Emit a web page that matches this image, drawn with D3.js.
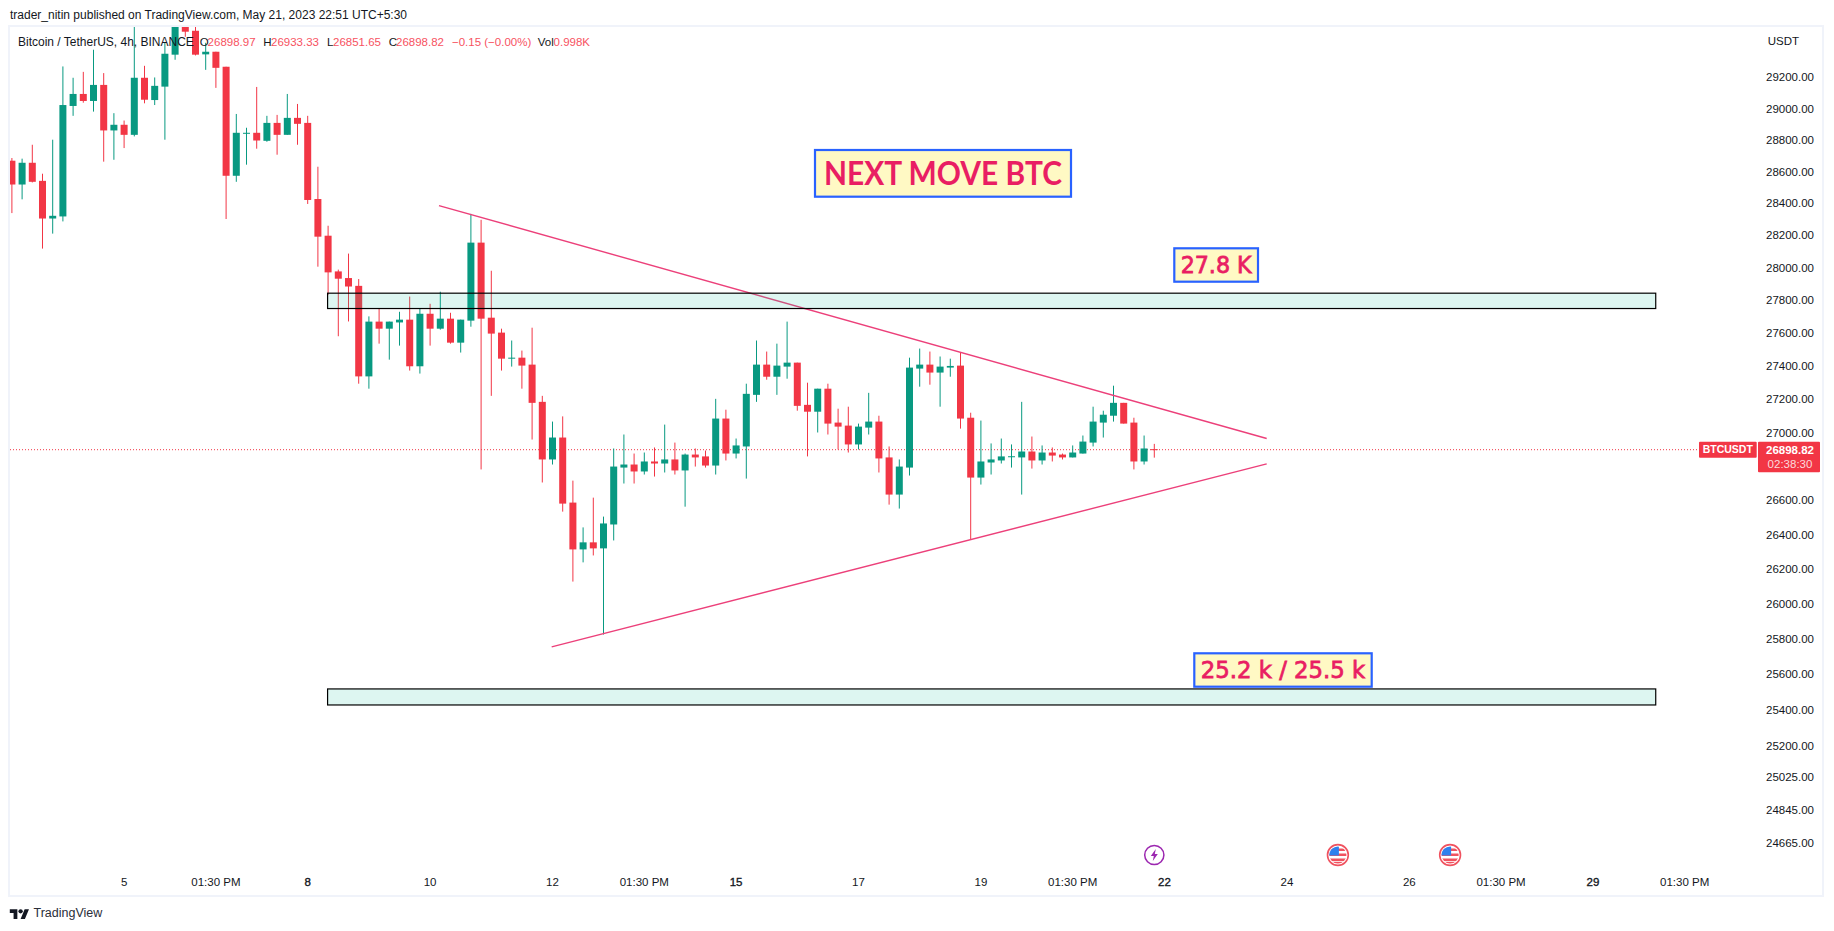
<!DOCTYPE html>
<html><head><meta charset="utf-8"><title>BTCUSDT</title>
<script src="https://cdn.jsdelivr.net/npm/d3@7"></script>
<style>html,body{margin:0;padding:0;background:#fff}svg{display:block}text{font-family:"Liberation Sans",Arial,sans-serif}</style>
</head><body><svg id="c" width="1834" height="931"></svg>
<script>
const opens=[28668,28518,28655,28541,28305,28318,29016,29093,29048,29151,28860,28896,28832,29197,29054,29140,29346,29572,29501,29348,29365,29268,28573,28841,28845,28794,28908,28832,28940,28908,28427,28198,27977,27936,27888,27337,27669,27626,27664,27681,27398,27717,27626,27687,27541,27675,28155,27693,27602,27444,27450,27408,27184,26841,26971,26587,26314,26355,26320,26459,26793,26811,26770,26829,26817,26841,26776,26870,26859,26805,27084,26876,26918,27226,27408,27335,27396,27420,27166,27125,27263,27060,27042,26930,27030,27066,26853,26634,26793,27384,27408,27360,27390,27402,27089,26734,26823,26835,26855,26853,26888,26835,26882,26870,26853,26876,26941,27060,27101,27178,27060,26829,26898.97];
const highs=[28685,28681,28769,28586,28801,29270,29197,29235,29378,29227,28970,28923,29527,29274,29199,29423,29637,29605,29540,29423,29365,29268,28965,28877,29138,28953,28959,29093,29029,28953,28630,28260,27988,28087,27930,27701,27752,27669,27729,27822,27752,27778,27852,27723,27681,28334,28297,27981,27626,27554,27493,27632,27220,27066,27097,26716,26442,26616,26505,26906,26989,26876,26882,26912,27048,26941,26876,26906,26894,27202,27137,26965,27293,27554,27487,27535,27669,27420,27299,27263,27293,27143,27155,27054,27238,27101,26918,26841,27450,27505,27487,27457,27444,27481,27119,27072,26936,26965,26930,27184,26977,26924,26912,26876,26924,26983,27155,27131,27281,27178,27089,26983,26933.33];
const lows=[28339,28425,28531,28118,28211,28287,28953,29037,28980,28662,28674,28748,28822,29033,29022,28801,29313,29462,29341,29248,29132,28302,28535,28643,28744,28788,28706,28832,28769,28396,28006,27833,27580,27670,27293,27263,27535,27438,27523,27372,27354,27523,27620,27535,27481,27638,26782,27220,27372,27396,27263,26959,26705,26811,26534,26128,26239,26279,25825,26366,26699,26699,26752,26740,26764,26752,26563,26799,26793,26752,26835,26847,26728,27184,27317,27226,27323,27131,26859,27001,26989,26900,26882,26900,26989,26764,26575,26552,26746,27275,27287,27155,27335,27024,26372,26693,26752,26817,26793,26634,26787,26811,26829,26841,26853,26876,26918,26971,27066,27054,26782,26811,26851.65];
const closes=[28518,28655,28535,28305,28322,29022,29093,29048,29151,28860,28896,28832,29197,29056,29145,29352,29572,29495,29346,29365,29261,28573,28845,28845,28796,28908,28832,28940,28902,28421,28192,27971,27932,27884,27337,27669,27626,27669,27681,27398,27717,27626,27687,27541,27681,28155,27687,27596,27444,27450,27402,27178,26841,26971,26581,26314,26355,26320,26465,26799,26811,26770,26829,26817,26841,26776,26870,26853,26805,27084,26876,26924,27232,27408,27335,27402,27420,27160,27125,27263,27054,27036,26930,27036,27066,26847,26634,26799,27390,27408,27360,27396,27400,27084,26734,26829,26841,26859,26860,26888,26835,26882,26864,26853,26882,26947,27066,27107,27178,27054,26829,26906,26898.82];

const priceTicks=[29200,29000,28800,28600,28400,28200,28000,27800,27600,27400,27200,27000,26600,26400,26200,26000,25800,25600,25400,25200,25025,24845,24665];
const timeIdx=[11,20,29,41,53,62,71,83,95,104,113,125,137,146,155,164];
const timeLabels=["5","01:30 PM","8","10","12","01:30 PM","15","17","19","01:30 PM","22","24","26","01:30 PM","29","01:30 PM"];
const timeBold=["8","15","22","29"];

const zoneTops=[27843,25517];
const zoneBots=[27749,25427];
const zoneFrom=30.95, zoneTo=161.16;

const trendFromIdx=[41.87,52.92];
const trendFromPrice=[28386,25755];
const trendToIdx=[123.02,123.02];
const trendToPrice=[26965,26815];

const lastPrice=26898.82;
const legendParts=[["Bitcoin / TetherUS, 4h, BINANCE",18,0],["O",199.7,0],["26898.97",207.6,1],["H",263.3,0],["26933.33",271,1],["L",327,0],["26851.65",333,1],["C",388.7,0],["26898.82",396,1],["\u22120.15 (\u22120.00%)",452,1],["Vol",537.8,0],["0.998K",553.6,1]];
const eventIdx=[112,130,141];
const eventKinds=["bolt","flag","flag"];

const W=1834,H=931,paneL=10,paneT=27,paneR=1822,paneB=895;
const GREEN="#089981",RED="#F23645",INK="#131722",PINK="#EC407A",BLUE="#2962FF";
const x=d3.scaleLinear().domain([0,112]).range([11.9,1154.3]);
const y=d3.scaleLog().domain([24665,29200]).range([843,77.3]);
const svg=d3.select("#c");
svg.append("rect").attr("width",W).attr("height",H).attr("fill","#fff");
svg.append("defs").append("clipPath").attr("id","pane").append("rect").attr("x",paneL).attr("y",paneT).attr("width",paneR-paneL).attr("height",paneB-paneT);
svg.append("rect").attr("x",paneL-1).attr("y",paneT-1).attr("width",paneR-paneL+2).attr("height",paneB-paneT+2).attr("fill","none").attr("stroke","#F0F3FA").attr("stroke-width",2);

svg.append("text").attr("x",10).attr("y",14.7).attr("dy",".35em").attr("font-size",12).attr("fill",INK).text("trader_nitin published on TradingView.com, May 21, 2023 22:51 UTC+5:30");

const chart=svg.append("g").attr("clip-path","url(#pane)");
// last price line
chart.append("line").attr("x1",paneL).attr("x2",1699).attr("y1",y(lastPrice)).attr("y2",y(lastPrice)).attr("stroke",RED).attr("stroke-dasharray","1 2").attr("stroke-width",1);
// candles
const candles=d3.range(opens.length).map(i=>({i,o:opens[i],h:highs[i],l:lows[i],c:closes[i]}));
const g=chart.selectAll("g.k").data(candles).join("g").attr("class","k");
const col=d=>d.c>=d.o?GREEN:RED;
g.append("line").attr("x1",d=>x(d.i)).attr("x2",d=>x(d.i)).attr("y1",d=>y(d.h)).attr("y2",d=>y(d.l)).attr("stroke",col).attr("stroke-width",1);
g.filter(d=>d.i<112).append("rect").attr("x",d=>x(d.i)-3.5).attr("width",7).attr("y",d=>y(Math.max(d.o,d.c))).attr("height",d=>Math.max(1,Math.abs(y(d.o)-y(d.c)))).attr("fill",col);
g.filter(d=>d.i===112).append("line").attr("x1",d=>x(d.i)-3.5).attr("x2",d=>x(d.i)+3.5).attr("y1",d=>y(d.o)).attr("y2",d=>y(d.o)).attr("stroke",RED);
// trend lines
chart.selectAll("line.t").data(trendFromIdx).join("line").attr("class","t")
 .attr("x1",d=>x(d)).attr("y1",(d,i)=>y(trendFromPrice[i])).attr("x2",(d,i)=>x(trendToIdx[i])).attr("y2",(d,i)=>y(trendToPrice[i]))
 .attr("stroke",PINK).attr("stroke-width",1.4);
// zones
chart.selectAll("rect.z").data(zoneTops).join("rect").attr("class","z")
 .attr("x",x(zoneFrom)).attr("width",x(zoneTo)-x(zoneFrom)).attr("y",d=>y(d)).attr("height",(d,i)=>y(zoneBots[i])-y(d))
 .attr("fill","#1AC29E").attr("fill-opacity",.15).attr("stroke","#000").attr("stroke-width",1.2);

// note boxes
const notes=[["NEXT MOVE BTC",814,149,258,48.7,1072-814,32.5,238,"Lato",700,0],["27.8 K",1173.3,247.3,85.7,35.4,0,23,71,"DejaVu Sans",500,.8],["25.2 k / 25.5 k",1193.3,652.3,179.4,35.4,0,23,164.5,"DejaVu Sans",500,.8]];
notes.forEach(n=>{
 svg.append("rect").attr("x",n[1]+1).attr("y",n[2]+1).attr("width",n[3]-2).attr("height",n[4]-2).attr("fill","#FFF9C4").attr("stroke",BLUE).attr("stroke-width",2.2);
 svg.append("text").attr("x",n[1]+n[3]/2).attr("y",n[2]+n[4]/2).attr("dy",".36em").attr("text-anchor","middle").attr("font-size",n[6]).attr("font-weight",n[9])
  .attr("fill","#E91E63").attr("stroke","#E91E63").attr("stroke-width",n[10]).attr("textLength",n[7]).attr("lengthAdjust","spacingAndGlyphs").style("font-family",n[8]).text(n[0]);
});

// legend
svg.selectAll("text.lg").data(legendParts).join("text").attr("class","lg").attr("x",d=>d[1]).attr("y",41.7).attr("dy",".35em").attr("font-size",d=>d[0].length>20?12:11.5).attr("fill",d=>d[2]?"#F7525F":INK).text(d=>d[0]);

// axes
svg.selectAll("text.py").data(priceTicks).join("text").attr("class","py").attr("x",1814).attr("y",d=>y(d)).attr("dy",".35em").attr("text-anchor","end").attr("font-size",11.5).attr("fill",INK).text(d=>d.toFixed(2));
svg.append("text").attr("x",1767.7).attr("y",40.7).attr("dy",".35em").attr("font-size",11.5).attr("fill",INK).text("USDT");
svg.selectAll("text.tx").data(timeIdx).join("text").attr("class","tx").attr("x",d=>x(d)).attr("y",881.7).attr("dy",".35em").attr("text-anchor","middle").attr("font-size",11.5)
 .attr("fill",INK).attr("stroke",INK).attr("stroke-width",(d,i)=>timeBold.includes(timeLabels[i])?.35:0).text((d,i)=>timeLabels[i]);

// last price tags
const ly=y(lastPrice);
svg.append("rect").attr("x",1699).attr("y",ly-8).attr("width",57.7).attr("height",16).attr("rx",1).attr("fill",RED);
svg.append("text").attr("x",1727.8).attr("y",ly).attr("dy",".35em").attr("text-anchor","middle").attr("font-size",10.5).attr("font-weight",700).attr("fill","#fff").text("BTCUSDT");
svg.append("rect").attr("x",1758).attr("y",ly-8).attr("width",62).attr("height",30.5).attr("rx",1).attr("fill",RED);
svg.append("text").attr("x",1790).attr("y",ly).attr("dy",".35em").attr("text-anchor","middle").attr("font-size",11.5).attr("font-weight",700).attr("fill","#fff").text("26898.82");
svg.append("text").attr("x",1790).attr("y",ly+14).attr("dy",".35em").attr("text-anchor","middle").attr("font-size",11.5).attr("fill","#FCD9DC").text("02:38:30");

// event icons
eventIdx.forEach((idx,i)=>{
 const cx=x(idx),cy=855,e=svg.append("g").attr("transform",`translate(${cx},${cy})`);
 if(eventKinds[i]==="bolt"){
  e.append("circle").attr("r",9.6).attr("fill","#fff").attr("stroke","#9C27B0").attr("stroke-width",1.5);
  e.append("path").attr("d","M1.5,-6 L-3.5,1 L-0.5,1 L-1.5,6 L3.5,-1 L0.5,-1 Z").attr("fill","#9C27B0");
 } else {
  const id="fl"+i;
  svg.select("defs").append("clipPath").attr("id",id).append("circle").attr("r",8.6);
  e.append("circle").attr("r",10.4).attr("fill","#fff").attr("stroke","#F0525F").attr("stroke-width",1.6);
  const f=e.append("g").attr("clip-path",`url(#${id})`);
  f.append("rect").attr("x",-9).attr("y",-9).attr("width",18).attr("height",18).attr("fill","#fff");
  [-6.5,-1.5,3.5].forEach(s=>f.append("rect").attr("x",-9).attr("y",s).attr("width",18).attr("height",2.5).attr("fill","#F0525F"));
  f.append("rect").attr("x",-9).attr("y",6.8).attr("width",18).attr("height",3).attr("fill","#F0525F");
  f.append("rect").attr("x",-9).attr("y",-9).attr("width",10).attr("height",9.5).attr("fill","#2F80ED");
 }
});

// logo
const lg=svg.append("g").attr("transform","translate(9.8,907) scale(0.54)");
lg.append("path").attr("d","M14 22H7V11H0V4h14v18zM28 22h-8l7.5-18h8L28 22z").attr("fill",INK);
lg.append("circle").attr("cx",20).attr("cy",8).attr("r",4).attr("fill",INK);
svg.append("text").attr("x",33.5).attr("y",913).attr("dy",".35em").attr("font-size",12.5).attr("fill","#2A2E39").text("TradingView");
</script></body></html>
